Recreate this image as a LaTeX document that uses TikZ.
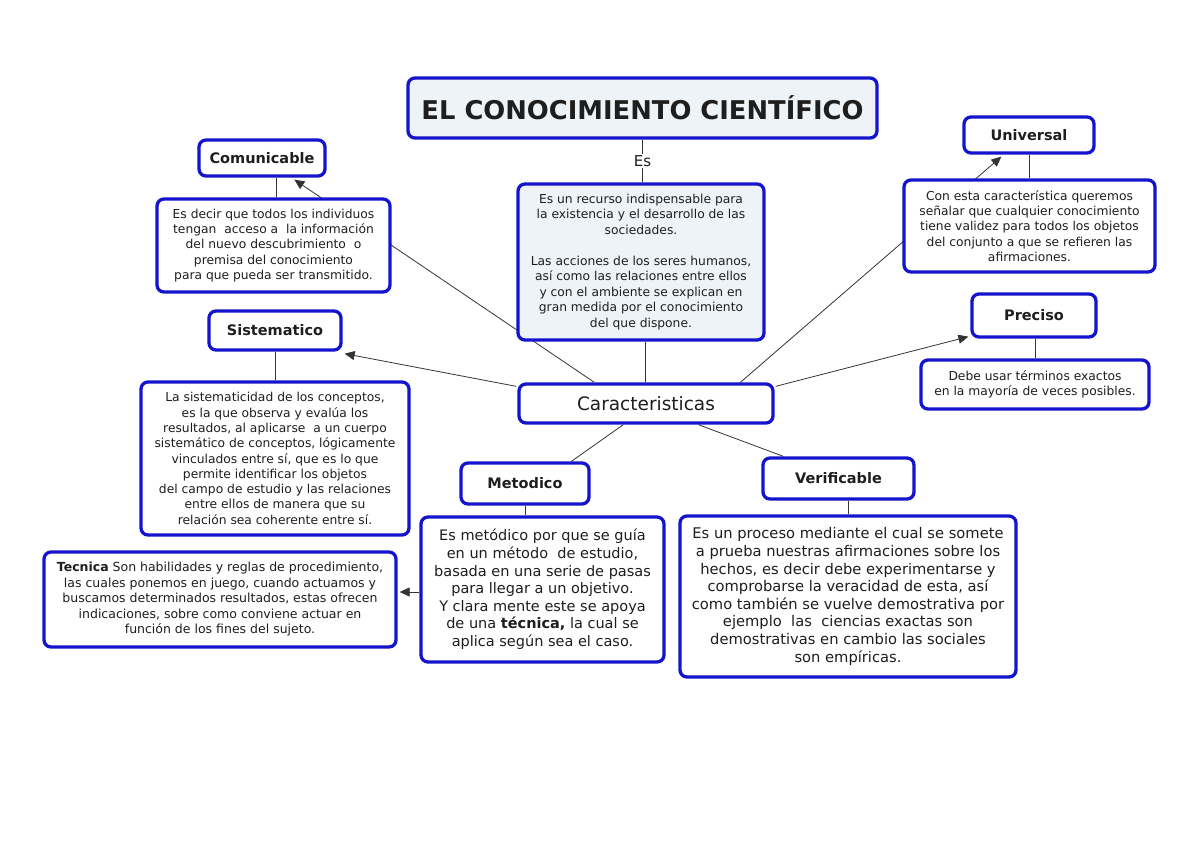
\documentclass[tikz,border=0pt]{standalone}
\usepackage{fontspec}
\setmainfont{DejaVu Sans}
\usetikzlibrary{arrows.meta,backgrounds}
\definecolor{bblue}{RGB}{20,20,205}
\definecolor{lfill}{RGB}{238,243,247}
\definecolor{tgray}{RGB}{30,30,30}
\tikzset{
  box/.style={draw=bblue, line width=3.3pt, rounded corners=7pt, fill=white, inner sep=0pt, align=center, text=tgray},
  lbl/.style={box, font=\bfseries\fontsize{14.5}{17}\selectfont},
  dsc/.style={box, font=\fontsize{12.3}{15.3}\selectfont},
  big/.style={box, font=\fontsize{14.7}{17.6}\selectfont},
  conn/.style={draw=black!80, line width=0.8pt},
  arr/.style={conn, -{Triangle[length=10pt,width=9pt]}}
}
\begin{document}
\begin{tikzpicture}[x=1pt,y=-1pt]
\useasboundingbox (0,0) rectangle (1200,849);
% title
\node[box, fill=lfill, minimum width=469pt, minimum height=60pt, font=\bfseries\fontsize{25.8}{30}\selectfont] (title) at (642.5,108) {EL CONOCIMIENTO CIENTÍFICO};
\node[box, fill=lfill, minimum width=246pt, minimum height=156pt, font=\fontsize{12.3}{15.5}\selectfont] (desc) at (641,262)
 {Es un recurso indispensable para\\la existencia y el desarrollo de las\\sociedades.\\[15.5pt]Las acciones de los seres humanos,\\así como las relaciones entre ellos\\y con el ambiente se explican en\\gran medida por el conocimiento\\del que dispone.};
\node[box, minimum width=254pt, minimum height=39pt, font=\fontsize{18.5}{21}\selectfont] (cara) at (646,403.5) {Caracteristicas};
% left
\node[lbl, minimum width=126pt, minimum height=36pt] (com) at (262,158) {Comunicable};
\node[dsc, minimum width=233pt, minimum height=93pt] (comd) at (273.5,245.5)
 {Es decir que todos los individuos\\tengan\ \ acceso a\ \ la información\\del nuevo descubrimiento\ \ o\\premisa del conocimiento\\para que pueda ser transmitido.};
\node[lbl, minimum width=132pt, minimum height=39pt] (sis) at (275,330.5) {Sistematico};
\node[dsc, minimum width=268pt, minimum height=153pt] (sisd) at (275,458.5)
 {La sistematicidad de los conceptos,\\es la que observa y evalúa los\\resultados, al aplicarse\ \ a un cuerpo\\sistemático de conceptos, lógicamente\\vinculados entre sí, que es lo que\\permite identificar los objetos\\del campo de estudio y las relaciones\\entre ellos de manera que su\\relación sea coherente entre sí.};
\node[dsc, font=\fontsize{12.5}{15.5}\selectfont, minimum width=352pt, minimum height=95pt] (tec) at (220,599.5)
 {\textbf{Tecnica} Son habilidades y reglas de procedimiento,\\las cuales ponemos en juego, cuando actuamos y\\buscamos determinados resultados, estas ofrecen\\indicaciones, sobre como conviene actuar en\\función de los fines del sujeto.};
% right
\node[lbl, minimum width=130pt, minimum height=36pt] (uni) at (1029,135) {Universal};
\node[dsc, minimum width=251pt, minimum height=92pt] (unid) at (1029.5,226)
 {Con esta característica queremos\\señalar que cualquier conocimiento\\tiene validez para todos los objetos\\del conjunto a que se refieren las\\afirmaciones.};
\node[lbl, minimum width=124pt, minimum height=43pt] (pre) at (1034,315.5) {Preciso};
\node[dsc, minimum width=228pt, minimum height=49pt] (pred) at (1035,384.5)
 {Debe usar términos exactos\\en la mayoría de veces posibles.};
% bottom
\node[lbl, minimum width=128pt, minimum height=41pt] (met) at (525,483.5) {Metodico};
\node[big, font=\fontsize{14.5}{17.6}\selectfont, minimum width=243pt, minimum height=145pt] (metd) at (542.5,589.5)
 {Es metódico por que se guía\\en un método\ \ de estudio,\\basada en una serie de pasas\\para llegar a un objetivo.\\Y clara mente este se apoya\\de una \textbf{técnica,} la cual se\\aplica según sea el caso.};
\node[lbl, minimum width=151pt, minimum height=41pt] (ver) at (838.5,478.5) {Verificable};
\node[big, minimum width=336pt, minimum height=161pt] (verd) at (848,596.5)
 {Es un proceso mediante el cual se somete\\a prueba nuestras afirmaciones sobre los\\hechos, es decir debe experimentarse y\\comprobarse la veracidad de esta, así\\como también se vuelve demostrativa por\\ejemplo\ \ las\ \ ciencias exactas son\\demostrativas en cambio las sociales\\son empíricas.};
% connectors
\coordinate (tp) at ([yshift=-2.5pt]metd.west);
\path (tp -| tec.east) coordinate (tq0);
\coordinate (tq) at ([xshift=2pt]tq0);
\begin{scope}[on background layer]
\draw[conn] (title.south) -- node[fill=white, inner sep=1pt, font=\fontsize{15}{18}\selectfont, text=tgray] {Es} (title.south |- desc.north);
\draw[conn] (cara.north -| 645,0) -- (desc.south -| 645,0);
\draw[arr] ([xshift=77pt]cara.north west) -- ([xshift=97pt,yshift=-2pt]com.south west);
\draw[arr] ([xshift=-1pt,yshift=-4pt]cara.north west) -- ([xshift=2pt,yshift=-2pt]sis.south east);
\draw[arr] ([xshift=223pt]cara.north west) -- ([xshift=39pt,yshift=-2pt]uni.south west);
\draw[arr] ([xshift=1pt,yshift=-4pt]cara.north east) -- ([xshift=-2pt,yshift=2pt]pre.south west);
\draw[conn] ([xshift=106pt]cara.south west) -- ([xshift=112pt]met.north west);
\draw[conn] ([xshift=181pt]cara.south west) -- ([xshift=22pt]ver.north west);
\draw[conn] (comd.north -| 276,0) -- (com.south -| 276,0);
\draw[conn] (sisd.north) -- (sis.south);
\draw[conn] (unid.north) -- (uni.south -| unid.north);
\draw[conn] (pred.north) -- (pre.south -| pred.north);
\draw[conn] (met.south) -- (met.south |- metd.north);
\draw[conn] (verd.north) -- (verd.north |- ver.south);
\draw[arr] (tp) -- (tq);
\end{scope}
\end{tikzpicture}
\end{document}
